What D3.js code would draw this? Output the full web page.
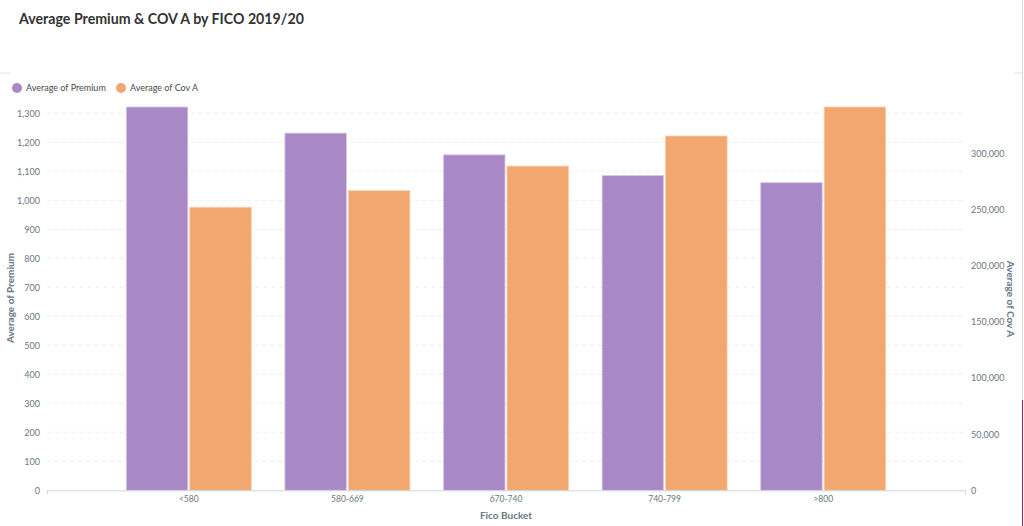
<!DOCTYPE html>
<html>
  <head>
    <meta charset="UTF-8">
    <script src="https://d3js.org/d3.v7.min.js"></script>
    <style>
        * {
            font-family: Lato, sans-serif;
        }
        body {
            margin: 0;
            background: #fff;
        }
        svg {
            display: block;
        }
        .chartTitle {
            font-size: 14.2px;
            font-weight: bold;
            fill: #333;
        }
        .legendLabel {
            font-size: 9px;
            fill: #4a4a4a;
        }
        .tickLabel {
            font-size: 9px;
            fill: #6b7684;
        }
        .xTickLabel {
            font-size: 8.5px;
            fill: #6b7684;
        }
        .axisTitle {
            font-size: 10px;
            font-weight: bold;
            fill: #6b7684;
        }
        .grid line {
            stroke: #ececec;
            stroke-dasharray: 4, 4;
        }
    </style>
  </head>
  <body>
    <script>
        const buckets = ['<580', '580-669', '670-740', '740-799', '>800']
        const avgPremium = [1322, 1232, 1157, 1086, 1061]
        const avgCovA = [252000, 266700, 288600, 315400, 341200]
        const seriesNames = ['Average of Premium', 'Average of Cov A']
        const seriesColors = ['#a889c5', '#f2a76e']
        const premiumTicks = [0, 100, 200, 300, 400, 500, 600, 700, 800, 900, 1000, 1100, 1200, 1300]
        const covATicks = [0, 50000, 100000, 150000, 200000, 250000, 300000]

        const svgWidth = 1024, svgHeight = 526
        const plot = {left: 47, right: 965, top: 107, bottom: 490.3}

        let svg = d3.select('body').append('svg')
            .attr('width', svgWidth)
            .attr('height', svgHeight)

        // title and the faint divider stubs at the edges
        svg.append('text')
            .attr('class', 'chartTitle')
            .attr('x', 19)
            .attr('y', 24)
            .text('Average Premium & COV A by FICO 2019/20')

        svg.append('line').attr('x1', 0).attr('x2', 11).attr('y1', 73).attr('y2', 73)
            .attr('stroke', '#e4e4e4')
        svg.append('line').attr('x1', 1014).attr('x2', 1022).attr('y1', 73).attr('y2', 73)
            .attr('stroke', '#e4e4e4')
        svg.append('line').attr('x1', 1022.5).attr('x2', 1022.5).attr('y1', 0).attr('y2', 400)
            .attr('stroke', '#d8d8d8')
        svg.append('line').attr('x1', 1022.5).attr('x2', 1022.5).attr('y1', 400).attr('y2', 526)
            .attr('stroke', '#b01f4a')

        // legend
        let legend = svg.append('g')
        let legendX = [17, 121]
        seriesNames.forEach((name, i) => {
            legend.append('circle')
                .attr('cx', legendX[i])
                .attr('cy', 88)
                .attr('r', 5)
                .attr('fill', seriesColors[i])
            legend.append('text')
                .attr('class', 'legendLabel')
                .attr('x', legendX[i] + 9)
                .attr('y', 91.2)
                .text(name)
        })

        let x = d3.scaleBand()
            .domain(buckets)
            .range([plot.left, plot.right])
            .paddingInner(0.212)
            .paddingOuter(0.5)

        let xSub = d3.scaleBand()
            .domain([0, 1])
            .range([0, x.bandwidth()])

        let yLeft = d3.scaleLinear()
            .domain([0, d3.max(avgPremium)])
            .range([plot.bottom, plot.top])

        let yRight = d3.scaleLinear()
            .domain([0, d3.max(avgCovA)])
            .range([plot.bottom, plot.top])

        // gridlines from the premium axis
        svg.append('g')
            .attr('class', 'grid')
            .selectAll('line')
            .data(premiumTicks.slice(1))
            .enter()
            .append('line')
            .attr('x1', plot.left)
            .attr('x2', plot.right)
            .attr('y1', d => yLeft(d))
            .attr('y2', d => yLeft(d))

        // bars
        let groups = svg.selectAll('.bucket')
            .data(buckets)
            .enter()
            .append('g')
            .attr('class', 'bucket')
            .attr('transform', d => `translate(${x(d)}, 0)`)

        groups.append('rect')
            .attr('x', xSub(0))
            .attr('y', (d, i) => yLeft(avgPremium[i]))
            .attr('width', xSub.bandwidth() - 1)
            .attr('height', (d, i) => plot.bottom - yLeft(avgPremium[i]))
            .attr('fill', seriesColors[0])
            .attr('stroke', '#d9c9ea')
            .attr('stroke-width', 0.8)

        groups.append('rect')
            .attr('x', xSub(1) + 1)
            .attr('y', (d, i) => yRight(avgCovA[i]))
            .attr('width', xSub.bandwidth() - 1)
            .attr('height', (d, i) => plot.bottom - yRight(avgCovA[i]))
            .attr('fill', seriesColors[1])
            .attr('stroke', '#f8cfae')
            .attr('stroke-width', 0.8)

        // x axis
        let xAxis = svg.append('g')
            .attr('transform', `translate(0, ${plot.bottom})`)
            .call(d3.axisBottom(x).tickSize(0).tickPadding(6).tickSizeOuter(4))
        xAxis.select('.domain').attr('stroke', '#cfd6dc')
        xAxis.selectAll('text').attr('class', 'xTickLabel')

        // left axis
        let leftAxis = svg.append('g')
            .attr('transform', `translate(${plot.left - 7}, 0)`)
            .call(d3.axisLeft(yLeft).tickValues(premiumTicks).tickFormat(d3.format(',')).tickSize(0).tickPadding(0))
        leftAxis.select('.domain').remove()
        leftAxis.selectAll('text').attr('class', 'tickLabel')

        // right axis
        let rightAxis = svg.append('g')
            .attr('transform', `translate(${plot.right + 6}, 0)`)
            .call(d3.axisRight(yRight).tickValues(covATicks).tickFormat(d3.format(',')).tickSize(0).tickPadding(0))
        rightAxis.select('.domain').remove()
        rightAxis.selectAll('text').attr('class', 'tickLabel')

        // axis titles
        svg.append('text')
            .attr('class', 'axisTitle')
            .attr('text-anchor', 'middle')
            .attr('transform', `translate(14, 298) rotate(-90)`)
            .text('Average of Premium')

        svg.append('text')
            .attr('class', 'axisTitle')
            .attr('text-anchor', 'middle')
            .attr('transform', `translate(1007, 299) rotate(90)`)
            .text('Average of Cov A')

        svg.append('text')
            .attr('class', 'axisTitle')
            .attr('text-anchor', 'middle')
            .attr('x', (plot.left + plot.right) / 2)
            .attr('y', 519)
            .text('Fico Bucket')
    </script>
  </body>
</html>
